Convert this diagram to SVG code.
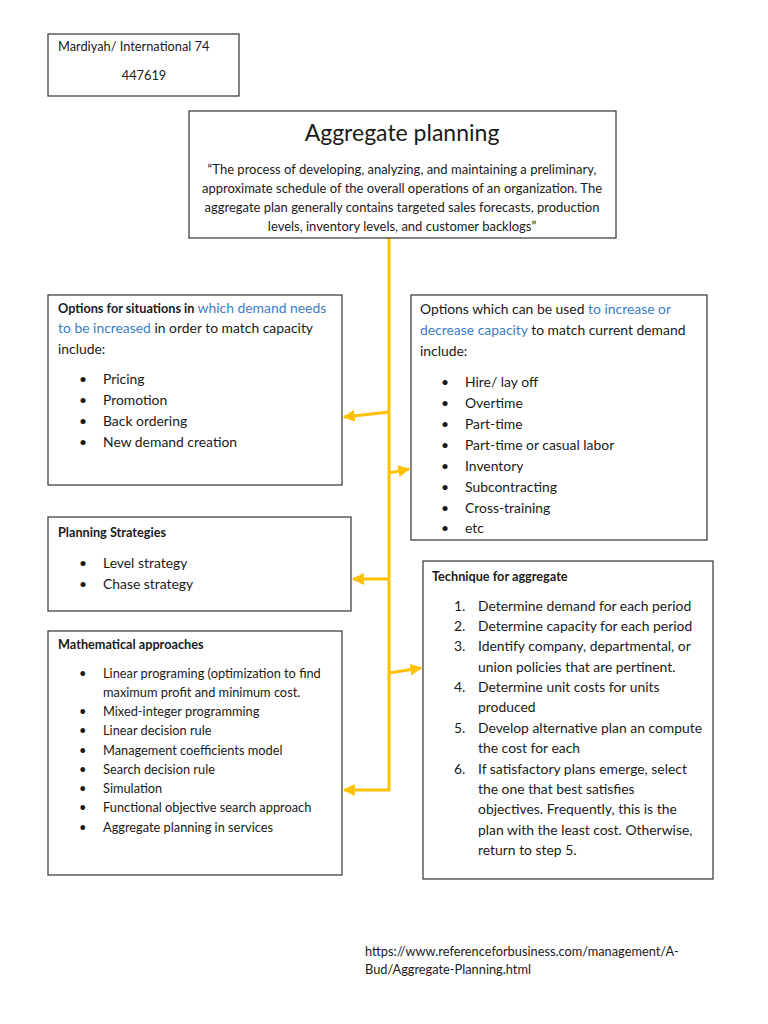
<svg xmlns="http://www.w3.org/2000/svg" width="768" height="1024" viewBox="0 0 768 1024">
<style>
.box{fill:#fff;stroke:#333;stroke-width:1.2}
text{font-family:Lato,"Open Sans",sans-serif;font-size:13.9px;fill:#1a1a1a}
.b{font-weight:bold;font-size:12.7px}
.s{font-size:12.8px}
.q{font-size:13px}
.blue{fill:#3c7dc4}
.c{text-anchor:middle}
.conn{stroke:#FFC000;stroke-width:3;fill:none}
</style>
<defs>
<marker id="ah" viewBox="0 0 10 10" refX="9" refY="5" markerWidth="4" markerHeight="4" orient="auto" markerUnits="strokeWidth">
<path d="M0,0 L10,5 L0,10 z" fill="#FFC000"/>
</marker>
</defs>
<rect width="768" height="1024" fill="#fff"/>
<g id="connectors">
<path class="conn" d="M389,238 V790 H344" marker-end="url(#ah)"/>
<path class="conn" d="M389,412 L344,417" marker-end="url(#ah)"/>
<path class="conn" d="M389,473 L409,469" marker-end="url(#ah)"/>
<path class="conn" d="M389,579 L353,579" marker-end="url(#ah)"/>
<path class="conn" d="M389,673 L421,668" marker-end="url(#ah)"/>
</g>
<g id="author">
<rect class="box" x="48" y="34" width="191" height="62"/>
<text x="58" y="51" class="s">Mardiyah/ International 74</text>
<text x="144" y="80" class="s c">447619</text>
</g>
<g id="main">
<rect class="box" x="189" y="111" width="427" height="127"/>
<text x="402" y="141" class="c" style="font-size:23px">Aggregate planning</text>
<text x="402" y="174" class="c q">“The process of developing, analyzing, and maintaining a preliminary,</text>
<text x="402" y="193" class="c q">approximate schedule of the overall operations of an organization. The</text>
<text x="402" y="212" class="c q">aggregate plan generally contains targeted sales forecasts, production</text>
<text x="402" y="231" class="c q">levels, inventory levels, and customer backlogs”</text>
</g>
<g id="demand">
<rect class="box" x="48" y="295" width="294" height="190"/>
<text x="58" y="313"><tspan class="b">Options for situations in </tspan><tspan class="blue">which demand needs</tspan></text>
<text x="58" y="333"><tspan class="blue">to be increased</tspan> in order to match capacity</text>
<text x="58" y="354">include:</text>
<text x="79" y="384">•</text><text x="103" y="384">Pricing</text>
<text x="79" y="405">•</text><text x="103" y="405">Promotion</text>
<text x="79" y="426">•</text><text x="103" y="426">Back ordering</text>
<text x="79" y="447">•</text><text x="103" y="447">New demand creation</text>
</g>
<g id="capacity">
<rect class="box" x="411" y="295" width="296" height="245"/>
<text x="420" y="314">Options which can be used <tspan class="blue">to increase or</tspan></text>
<text x="420" y="335"><tspan class="blue">decrease capacity</tspan> to match current demand</text>
<text x="420" y="356">include:</text>
<text x="441" y="387">•</text><text x="465" y="387">Hire/ lay off</text>
<text x="441" y="408">•</text><text x="465" y="408">Overtime</text>
<text x="441" y="429">•</text><text x="465" y="429">Part-time</text>
<text x="441" y="450">•</text><text x="465" y="450">Part-time or casual labor</text>
<text x="441" y="471">•</text><text x="465" y="471">Inventory</text>
<text x="441" y="492">•</text><text x="465" y="492">Subcontracting</text>
<text x="441" y="513">•</text><text x="465" y="513">Cross-training</text>
<text x="441" y="533">•</text><text x="465" y="533">etc</text>
</g>
<g id="strategies">
<rect class="box" x="48" y="517" width="303" height="94"/>
<text x="58" y="537" class="b">Planning Strategies</text>
<text x="79" y="568">•</text><text x="103" y="568">Level strategy</text>
<text x="79" y="589">•</text><text x="103" y="589">Chase strategy</text>
</g>
<g id="technique">
<rect class="box" x="423" y="561" width="290" height="318"/>
<text x="432" y="581" class="b">Technique for aggregate</text>
<text x="454" y="611">1.</text><text x="478" y="611">Determine demand for each period</text>
<text x="454" y="631">2.</text><text x="478" y="631">Determine capacity for each period</text>
<text x="454" y="651">3.</text><text x="478" y="651">Identify company, departmental, or</text>
<text x="478" y="672">union policies that are pertinent.</text>
<text x="454" y="692">4.</text><text x="478" y="692">Determine unit costs for units</text>
<text x="478" y="712">produced</text>
<text x="454" y="733">5.</text><text x="478" y="733">Develop alternative plan an compute</text>
<text x="478" y="753">the cost for each</text>
<text x="454" y="774">6.</text><text x="478" y="774">If satisfactory plans emerge, select</text>
<text x="478" y="794">the one that best satisfies</text>
<text x="478" y="814">objectives. Frequently, this is the</text>
<text x="478" y="835">plan with the least cost. Otherwise,</text>
<text x="478" y="855">return to step 5.</text>
</g>
<g id="math">
<rect class="box" x="48" y="631" width="294" height="244"/>
<text x="58" y="649" class="b">Mathematical approaches</text>
<text x="79" y="678" class="s">•</text><text x="103" y="678" class="s">Linear programing (optimization to find</text>
<text x="103" y="697" class="s">maximum profit and minimum cost.</text>
<text x="79" y="716" class="s">•</text><text x="103" y="716" class="s">Mixed-integer programming</text>
<text x="79" y="735" class="s">•</text><text x="103" y="735" class="s">Linear decision rule</text>
<text x="79" y="755" class="s">•</text><text x="103" y="755" class="s">Management coefficients model</text>
<text x="79" y="774" class="s">•</text><text x="103" y="774" class="s">Search decision rule</text>
<text x="79" y="793" class="s">•</text><text x="103" y="793" class="s">Simulation</text>
<text x="79" y="812" class="s">•</text><text x="103" y="812" class="s">Functional objective search approach</text>
<text x="79" y="832" class="s">•</text><text x="103" y="832" class="s">Aggregate planning in services</text>
</g>
<g id="source">
<text x="365" y="956" class="s">https://www.referenceforbusiness.com/management/A-</text>
<text x="365" y="974" class="s">Bud/Aggregate-Planning.html</text>
</g>
</svg>
